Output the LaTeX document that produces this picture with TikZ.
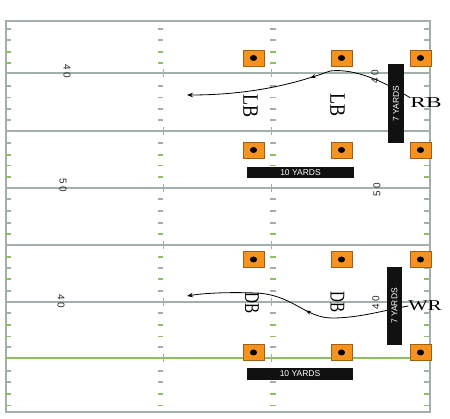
\documentclass[tikz,border=0pt]{standalone}
\usepackage{fontspec}
\setmainfont{Liberation Serif}
\setsansfont{Liberation Sans}
\usetikzlibrary{arrows.meta,decorations.markings}
\definecolor{fieldgray}{RGB}{163,174,174}
\definecolor{fieldgreen}{RGB}{140,192,96}
\definecolor{cone}{RGB}{246,146,30}
\definecolor{coneedge}{RGB}{160,95,25}
\definecolor{boxblack}{RGB}{17,17,17}
\begin{document}
\begin{tikzpicture}[x=1pt,y=-1pt,
  yardline/.style={draw=fieldgray,line width=1.1pt},
  goalline/.style={draw=fieldgreen,line width=1.3pt},
  hashgray/.style={draw=fieldgray,line width=1.4pt},
  hashgreen/.style={draw=fieldgreen,line width=1.7pt},
  tickmark/.style={draw=fieldgray,line width=0.7pt},
  numtxt/.style={font=\sffamily\fontsize{10}{10}\selectfont,inner sep=0pt,text=black!85},
  conebox/.style={draw=coneedge,fill=cone,line width=0.5pt,minimum width=21pt,minimum height=16pt,inner sep=0pt},
  yardbox/.style={fill=boxblack,text=white,inner sep=0pt,font=\sffamily\fontsize{8.5}{8.5}\selectfont},
  player/.style={inner sep=0pt,text=black},
  route/.style={draw=black,line width=0.8pt},
  midarrow/.style={decoration={markings,mark=at position #1 with {\arrow{Stealth[length=5pt,width=4pt]}}},postaction={decorate}}
]
\useasboundingbox (0,0) rectangle (450,419);
% field border
\draw[yardline] (6,21) rectangle (430,412);
% yard lines
\foreach \yy in {73,131,188,245,302} {\draw[yardline] (6,\yy) -- (430,\yy);}
\draw[goalline] (6,358) -- (430,358);
% hash marks
\foreach \xa/\xb in {6/11,158/163,270/276,424/429} {
  \foreach \yy/\cc in {29/hashgray,40/hashgray,52/hashgreen,63/hashgreen,
                       86/hashgray,97.5/hashgray,109/hashgray,120/hashgray,
                       143/hashgray,155/hashgreen,165.5/hashgreen,177/hashgreen,
                       199/hashgray,211/hashgray,223/hashgray,234/hashgreen,
                       257/hashgreen,268/hashgray,279/hashgreen,291/hashgray,
                       313/hashgray,325/hashgreen,336.5/hashgreen,347/hashgray,
                       371/hashgray,382/hashgray,394/hashgreen,405.5/hashgreen} {
    \draw[\cc] (\xa,\yy) -- (\xb,\yy);
  }
}
% ticks on yard lines
\foreach \yy in {73,131,188,245,302,358} {
  \draw[tickmark] (163,\yy-4) -- (163,\yy+4);
  \draw[tickmark] (271,\yy-4) -- (271,\yy+4);
}
% yard numbers
\node[numtxt,rotate=-90] (nl1) at (67,71) {4 0};
\node[numtxt,rotate=-90] (nl2) at (63,185) {5 0};
\node[numtxt,rotate=-90] (nl3) at (61,301.5) {4 0};
\node[numtxt,rotate=90] (nr1) at (375,76.5) {4 0};
\node[numtxt,rotate=90] (nr2) at (377,190) {5 0};
\node[numtxt,rotate=90] (nr3) at (376,303) {4 0};
% players
\node[player,font=\fontsize{15}{15}\selectfont] (RB) at (426,103) {\scalebox{1.55}[1]{RB}};
\node[player,font=\fontsize{15}{15}\selectfont] (WR) at (425,306) {\scalebox{1.37}[1]{WR}};
\node[player,rotate=-90,font=\fontsize{22}{22}\selectfont] (LB1) at (250.5,106.5) {\scalebox{0.82}[1]{LB}};
\node[player,rotate=-90,font=\fontsize{22}{22}\selectfont] (LB2) at (337.5,105) {\scalebox{0.82}[1]{LB}};
\node[player,rotate=-90,font=\fontsize{21}{21}\selectfont] (DB1) at (252,303) {\scalebox{0.72}[1]{DB}};
\node[player,rotate=-90,font=\fontsize{21}{21}\selectfont] (DB2) at (337.5,302.5) {\scalebox{0.72}[1]{DB}};
% routes
\coordinate (rbpeak) at (330,71);
\coordinate (rbend) at (187,95);
\draw[route,-{Stealth[length=6pt,width=4.5pt]},midarrow=0.46]
  (RB.north west) .. controls (385,82) and (355,68) .. (rbpeak)
  .. controls (300,82) and (255,95) .. (rbend);
\coordinate (wrlow) at (332,318);
\coordinate (wrmid) at (255,293);
\coordinate (wrend) at (187,296);
\draw[route,-{Stealth[length=6pt,width=4.5pt]},midarrow=0.46]
  (WR.west) .. controls (385,310) and (360,318) .. (wrlow)
  .. controls (305,318) and (292,294) .. (wrmid)
  .. controls (230,292) and (205,293) .. (wrend);
% distance boxes
\node[yardbox,minimum width=107pt,minimum height=11pt] (ten1) at (300.5,172.5) {10 YARDS};
\node[yardbox,minimum width=106pt,minimum height=12pt] (ten2) at (300,374) {10 YARDS};
\node[yardbox,rotate=90,minimum width=79pt,minimum height=16pt] (seven1) at (396,103.5) {7 YARDS};
\node[yardbox,rotate=90,minimum width=78pt,minimum height=15pt] (seven2) at (394.5,306) {7 YARDS};
% cones
\foreach \cx/\cn in {253.5/a,341.5/b,420.5/c} {
  \foreach \cy/\rn in {58/1,150/2,259.5/3,352.5/4} {
    \node[conebox] (cone\cn\rn) at (\cx,\cy) {};
    \fill[black] (cone\cn\rn.center) ellipse (3.5pt and 3pt);
  }
}
\end{tikzpicture}
\end{document}
